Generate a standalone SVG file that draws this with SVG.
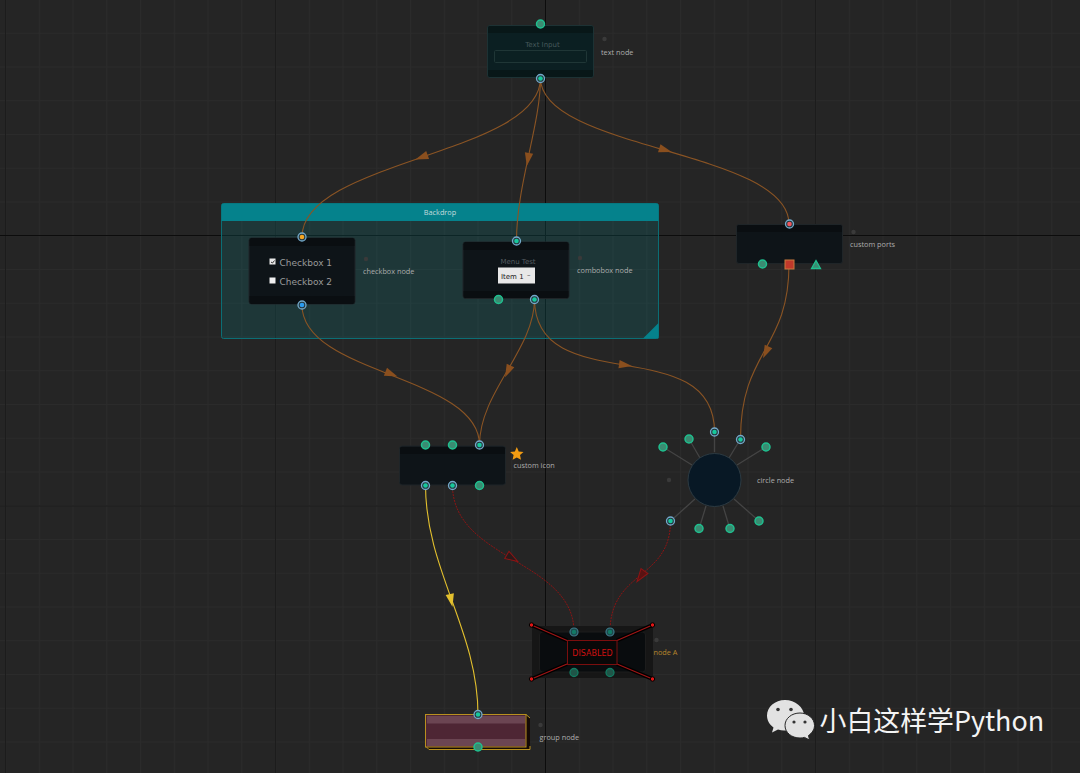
<svg xmlns="http://www.w3.org/2000/svg" width="1080" height="773" viewBox="0 0 1080 773">
<defs>
<pattern id="minor" width="33.75" height="33.75" patternUnits="userSpaceOnUse" x="5" y="-1"><path d="M0.5 0V33.75M0 0.5H33.75" fill="none" stroke="#2b2b2b" stroke-width="1"/></pattern>
<path id="ah" d="M-6-4.200L7 0L-6 4.200Z"/>
</defs>
<style>
text{font-family:"Open Sans","Liberation Sans",sans-serif}
.lbl{font-size:7.300px;fill:#adadad}
.w8{font-family:"DejaVu Sans",sans-serif}
.node{fill:#0e1418;stroke:#1f2528}
.band{fill:#0a0e11}
.dot{fill:#3a3a3a}
.p{fill:#3a8c72;stroke:#1fc08f;stroke-width:1.500}
.h{fill:#17c89c}
.ring{fill:#24363d;stroke:#74aacb;stroke-width:1.300}
.w{fill:none;stroke:#8a5424;stroke-width:1.100}
.ao{fill:#8a4f1e}
.rw{fill:none;stroke:#8c1414;stroke-width:1;stroke-dasharray:2 1}
.spoke{stroke:#444;stroke-width:1.300;fill:none}
</style>
<rect width="1080" height="773" fill="#252525"/>
<rect width="1080" height="773" fill="url(#minor)"/>
<path d="M5.500 0V773M275.500 0V773M815.500 0V773M0 506H1080" stroke="#1c1c1c"/>
<path d="M545.500 0V773M0 235.500H1080" stroke="#0c0c0c"/>
<g id="backdrop">
<rect x="221.500" y="203.500" width="437" height="135" rx="2" fill="#0a6e75" fill-opacity="0.25" stroke="#0b6e75"/>
<path d="M221.500 205.500a2 2 0 0 1 2-2h433a2 2 0 0 1 2 2V221H221.500Z" fill="#05828c"/>
<path d="M658.500 323V338.500H643Z" fill="#05828c"/>
<text x="440" y="215" font-size="7.300" fill="#c4dcdc" text-anchor="middle">Backdrop</text>
</g>
<g id="connectors">
<path class="w" d="M540.500 78C540.500 155 302 160 302 237"/>
<path class="w" d="M540.500 78C540.500 125 516.500 185 516.500 241"/>
<path class="w" d="M540.500 78C540.500 150 789 150 789 224"/>
<path class="w" d="M302 305C302 375 479.500 375 479.500 445"/>
<path class="w" d="M534.500 299C534.500 350 479.500 392 479.500 445"/>
<path class="w" d="M534.500 299C534.500 400 714.500 330 714.500 432"/>
<path class="w" d="M789 264C789 350 740.500 350 740.500 439"/>
<path fill="none" stroke="#e3c02e" stroke-width="1.100" d="M425.500 485C425.500 570 478 630 478 715"/>
<path class="rw" d="M452.500 485C452.500 560 574 560 574 632"/>
<path class="rw" d="M670.500 521C670.500 580 610 570 610 632"/>
<use href="#ah" class="ao" transform="translate(422 157) rotate(160)"/>
<use href="#ah" class="ao" transform="translate(528 159) rotate(100)"/>
<use href="#ah" class="ao" transform="translate(665 150) rotate(17)"/>
<use href="#ah" class="ao" transform="translate(391 374) rotate(22)"/>
<use href="#ah" class="ao" transform="translate(508 371) rotate(115)"/>
<use href="#ah" class="ao" transform="translate(625 365) rotate(8)"/>
<use href="#ah" class="ao" transform="translate(766 352) rotate(115)"/>
<use href="#ah" fill="#e3c02e" transform="translate(451 600) rotate(78)"/>
<use href="#ah" fill="#2c1a1a" stroke="#8c1414" transform="translate(512 558) rotate(31)"/>
<use href="#ah" fill="#5a1212" stroke="#8c1414" transform="translate(641 576) rotate(125)"/>
</g>
<g id="text-node">
<rect x="487.500" y="25.500" width="106" height="52" rx="2.500" fill="#0b1f22" stroke="#1d3234"/>
<path d="M488 33V28a2 2 0 0 1 2-2h101a2 2 0 0 1 2 2v5ZM488 70v5a2 2 0 0 0 2 2h101a2 2 0 0 0 2-2v-5Z" fill="#081718"/>
<text class="w8" x="542.500" y="46.500" font-size="7" fill="#46595b" text-anchor="middle">Text Input</text>
<rect x="494.500" y="50.500" width="92" height="12" rx="1" fill="#0b2022" stroke="#1f3636"/>
<circle class="p" cx="540.500" cy="24" r="4"/><circle class="ring" cx="540.500" cy="78.500" r="4"/><circle class="h" cx="540.500" cy="78.500" r="2.300"/>
<circle class="dot" cx="604.500" cy="39" r="2.200"/><text class="lbl" x="601" y="54.500">text node</text>
</g>
<g id="checkbox-node">
<rect class="node" x="249" y="238" width="106" height="66" rx="2.500"/>
<path d="M249.500 246V240a2 2 0 0 1 2-2h101a2 2 0 0 1 2 2v6ZM249.500 296v6a2 2 0 0 0 2 2h101a2 2 0 0 0 2-2v-6Z" class="band"/>
<rect x="269.500" y="258.500" width="6" height="6" fill="#e8e8e8"/><path d="M271 262l1.500 1 2-2.500" stroke="#333" fill="none"/>
<rect x="269.500" y="277.500" width="6" height="6" fill="#f0f0f0"/>
<text class="w8" x="279.500" y="266" font-size="9" fill="#9a9a9a">Checkbox 1</text><text class="w8" x="279.500" y="285" font-size="9" fill="#9a9a9a">Checkbox 2</text>
<circle class="ring" cx="302" cy="237" r="4"/><circle cx="302" cy="237" r="2.300" fill="#f5a623"/>
<circle class="ring" cx="302" cy="305" r="4"/><circle cx="302" cy="305" r="2.300" fill="#2b9cf0"/>
<circle class="dot" cx="366" cy="259" r="2.200"/><text class="lbl" x="363" y="274">checkbox node</text>
</g>
<g id="combobox-node">
<rect class="node" x="463" y="242" width="106" height="56.500" rx="2.500"/>
<path d="M463.500 250V244a2 2 0 0 1 2-2h101a2 2 0 0 1 2 2v6ZM463.500 291v5a2 2 0 0 0 2 2h101a2 2 0 0 0 2-2v-5Z" class="band"/>
<text class="w8" x="518" y="263.500" font-size="7" fill="#555c60" text-anchor="middle">Menu Test</text>
<rect x="498" y="267.500" width="37" height="16" fill="#e8e8e8"/>
<text class="w8" x="501" y="278.500" font-size="7" fill="#222">Item 1</text><text x="527" y="277" font-size="6" fill="#555">~</text>
<circle class="p" cx="498.500" cy="299.500" r="4"/>
<circle class="ring" cx="516.500" cy="241" r="4"/><circle class="h" cx="516.500" cy="241" r="2.300"/>
<circle class="ring" cx="534.500" cy="299.500" r="4"/><circle class="h" cx="534.500" cy="299.500" r="2.300"/>
<circle class="dot" cx="580" cy="258" r="2.200"/><text class="lbl" x="577" y="273">combobox node</text>
</g>
<g id="custom-ports">
<rect class="node" x="736.500" y="224.500" width="106" height="39" rx="2.500"/>
<path d="M737 232V227a2 2 0 0 1 2-2h101a2 2 0 0 1 2 2v5Z" class="band"/>
<circle class="ring" cx="789.500" cy="224" r="4"/><circle cx="789.500" cy="224" r="2.300" fill="#f0565c"/>
<circle class="p" cx="762.500" cy="264" r="4"/>
<rect x="785" y="260" width="9" height="9" fill="#c0392b" stroke="#c87a3f"/>
<path d="M816 260.500L820.500 268.500H811.500Z" fill="#3a8c72" stroke="#1fc08f" stroke-width="1.300"/>
<circle class="dot" cx="853.500" cy="232" r="2.200"/><text class="lbl" x="850" y="247">custom ports</text>
</g>
<g id="custom-icon">
<rect class="node" x="399.500" y="446" width="106" height="39" rx="2.500"/>
<path d="M400 454V449a2 2 0 0 1 2-2h101a2 2 0 0 1 2 2v5Z" class="band"/>
<circle class="p" cx="425.500" cy="445" r="4"/><circle class="p" cx="452.500" cy="445" r="4"/>
<circle class="ring" cx="479.500" cy="445" r="4"/><circle class="h" cx="479.500" cy="445" r="2.300"/>
<circle class="ring" cx="425.500" cy="485.500" r="4"/><circle class="h" cx="425.500" cy="485.500" r="2.300"/>
<circle class="ring" cx="452.500" cy="485.500" r="4"/><circle class="h" cx="452.500" cy="485.500" r="2.300"/>
<circle class="p" cx="479.500" cy="485.500" r="4"/>
<path d="M516.800 447L518.700 451.500L523.500 452L520 455.100L521 459.800L516.800 457.400L512.600 459.800L513.600 455.100L510.100 452L514.900 451.500Z" fill="#f39c12"/>
<text class="lbl" x="513.500" y="468">custom icon</text>
</g>
<g id="circle-node">
<path class="spoke" d="M714.500 452V432M700 458L689 439M692 465L663 447M729 458L740.500 439M737 465L766 447M695 499L670.500 521M706 506L699 529M723 506L730 529M734 499L759 521"/>
<circle cx="714.500" cy="480" r="26.500" fill="#081825" stroke="#2c3a42"/>
<circle class="p" cx="663" cy="447" r="4"/><circle class="p" cx="689" cy="439" r="4"/>
<circle class="ring" cx="714.500" cy="432" r="4"/><circle class="h" cx="714.500" cy="432" r="2.300"/>
<circle class="ring" cx="740.500" cy="439.500" r="4"/><circle class="h" cx="740.500" cy="439.500" r="2.300"/>
<circle class="p" cx="766" cy="447" r="4"/>
<circle class="ring" cx="670.500" cy="521" r="4"/><circle class="h" cx="670.500" cy="521" r="2.300"/>
<circle class="p" cx="699" cy="528.500" r="4"/><circle class="p" cx="730" cy="528.500" r="4"/><circle class="p" cx="759" cy="521" r="4"/>
<circle class="dot" cx="669" cy="480" r="2.200"/><text class="lbl" x="757" y="483">circle node</text>
</g>
<g id="node-A">
<rect x="532" y="626" width="121" height="52" fill="#161616"/>
<rect x="539.500" y="632" width="106" height="40" rx="3" fill="#090c0e" stroke="#1c1c1c"/>
<path d="M531.500 625L567 640.500M652.500 625L617 640.500M531.500 679L567 664M652.500 679L617 664" stroke="#000" stroke-width="4"/>
<path d="M531.500 625L567 640.500M652.500 625L617 640.500M531.500 679L567 664M652.500 679L617 664" stroke="#a01515" stroke-width="1.200"/>
<rect x="567.500" y="640.500" width="49.500" height="24" fill="#090808" stroke="#7a0e0e"/>
<text class="w8" x="592.500" y="655.500" font-size="8" fill="#d01010" text-anchor="middle">DISABLED</text>
<circle cx="531.500" cy="625" r="2.200" fill="#e01515" stroke="#000"/><circle cx="652.500" cy="625" r="2.200" fill="#e01515" stroke="#000"/><circle cx="531.500" cy="679" r="2.200" fill="#e01515" stroke="#000"/><circle cx="652.500" cy="679" r="2.200" fill="#e01515" stroke="#000"/>
<circle cx="574" cy="632" r="4" fill="#1d4a4c" stroke="#3d7a8a" stroke-width="1.200"/><circle cx="574" cy="632" r="2.200" fill="#127a66"/>
<circle cx="610" cy="632" r="4" fill="#1d4a4c" stroke="#3d7a8a" stroke-width="1.200"/><circle cx="610" cy="632" r="2.200" fill="#127a66"/>
<circle cx="574" cy="672.500" r="4" fill="#1f5548" stroke="#127a60" stroke-width="1.300"/><circle cx="610" cy="672.500" r="4" fill="#1f5548" stroke="#127a60" stroke-width="1.300"/>
<circle class="dot" cx="656.500" cy="640" r="2.200"/><text x="653.500" y="655" font-size="7.300" fill="#b8862b">node A</text>
</g>
<g id="group-node">
<path d="M526 715L530 718.500V749.500H429L425.500 746V715Z" fill="#150a06"/>
<path d="M526 714.500L530 718M425.500 746L429 749.500H530V746" fill="none" stroke="#b8901f"/>
<rect x="425.500" y="714.500" width="100.500" height="32.500" fill="#4e2634" stroke="#b8901f"/>
<rect x="427" y="716" width="98" height="7.500" fill="#6b4552"/><rect x="427" y="739" width="98" height="7" fill="#6b4552"/>
<circle class="ring" cx="478" cy="714.500" r="4"/><circle class="h" cx="478" cy="714.500" r="2.300"/>
<circle class="p" cx="478" cy="747" r="4"/>
<circle class="dot" cx="540.500" cy="725" r="2.200"/><text class="lbl" x="539.500" y="740">group node</text>
</g>
<g id="watermark">
<path d="M785 700c-10 0-18 7-18 15.500 0 5 2.500 9 6.500 12l-1.500 5 6-3c2 .5 4 1 6 1 10 0 20-7 20-15s-9-15.500-19-15.500Z" fill="#e2e2e2"/>
<path d="M800 713c-8.500 0-15 5.500-15 12.500s6.500 12.500 15 12.500c1.500 0 3-.2 4.500-.6l5 2.600-1-4.500c3.500-2.500 6-6 6-10 0-7-6.500-12.500-14.500-12.500Z" fill="#e2e2e2" stroke="#252525"/>
<circle cx="778" cy="709.500" r="1.800" fill="#333"/><circle cx="791" cy="709.500" r="1.800" fill="#333"/><circle cx="794" cy="722" r="1.600" fill="#333"/><circle cx="805" cy="722" r="1.600" fill="#333"/>
<text x="819.500" y="731" font-size="26.900" fill="#f4f4f4" style="font-family:'Noto Sans CJK SC','Noto Sans',sans-serif">小白这样学Python</text>
</g>
</svg>
